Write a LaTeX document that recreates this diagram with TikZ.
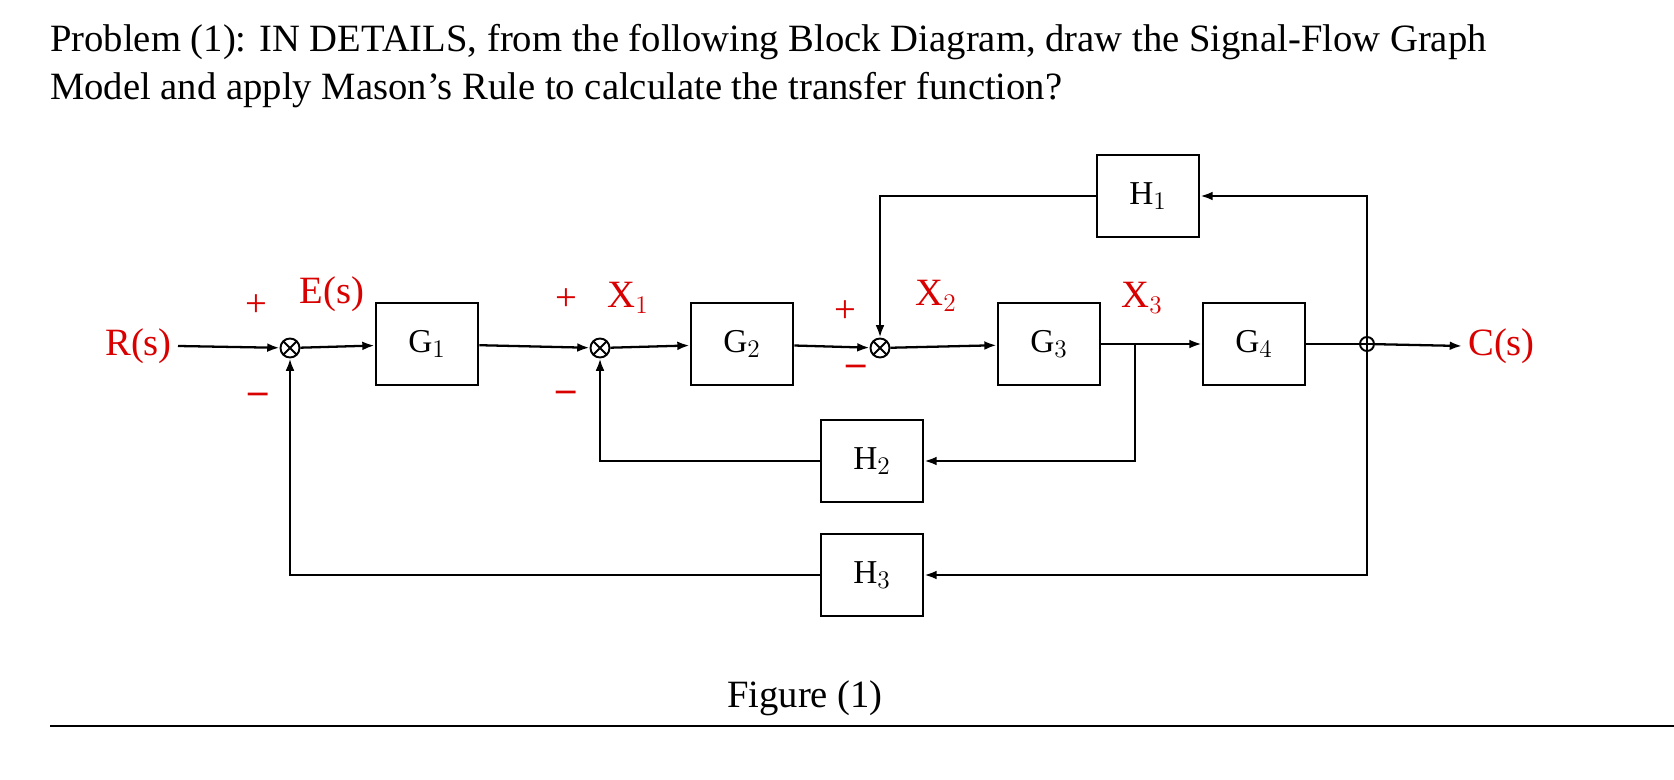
\documentclass[tikz,border=0pt]{standalone}
\usepackage{fontspec}
\setmainfont{Liberation Serif}
\usetikzlibrary{arrows.meta}
\begin{document}
\begin{tikzpicture}[x=0.02cm,y=-0.02cm,
  blk/.style={draw,line width=1.3pt,minimum width=2.05cm,minimum height=1.65cm,font=\fontsize{19}{19}\selectfont},
  sumj/.style={draw,circle,line width=1.1pt,minimum size=0.38cm,inner sep=0pt,
    path picture={\draw[line width=1.1pt] (path picture bounding box.north west)--(path picture bounding box.south east)
      (path picture bounding box.north east)--(path picture bounding box.south west);}},
  tk/.style={draw,circle,line width=1.1pt,minimum size=0.28cm,inner sep=0pt,
    path picture={\draw[line width=1.1pt] (path picture bounding box.north)--(path picture bounding box.south)
      (path picture bounding box.east)--(path picture bounding box.west);}},
  sig/.style={line width=1.3pt,-{Latex[length=7pt,width=5pt]}},
  ln/.style={line width=1.3pt},
  red txt/.style={text=red!85!black,font=\fontsize{22}{22}\selectfont},
  sg/.style={text=red!85!black,font=\fontsize{22}{22}\selectfont}]
\useasboundingbox (0,0) rectangle (1674,780);
% title
\node[anchor=west,font=\fontsize{22}{22}\selectfont] (t1) at (44,42) {Problem (1): IN DETAILS, from the following Block Diagram, draw the Signal-Flow Graph};
\node[anchor=west,font=\fontsize{22}{22}\selectfont] (t2) at (44,90) {Model and apply Mason’s Rule to calculate the transfer function?};
% blocks
\node[blk] (G1) at (427,344) {G$_1$};
\node[blk] (G2) at (742,344) {G$_2$};
\node[blk] (G3) at (1049,344) {G$_3$};
\node[blk] (G4) at (1254,344) {G$_4$};
\node[blk] (H1) at (1148,196) {H$_1$};
\node[blk] (H2) at (872,461) {H$_2$};
\node[blk] (H3) at (872,575) {H$_3$};
% junctions
\node[sumj] (S1) at (290,348) {};
\node[sumj] (S2) at (600,348) {};
\node[sumj] (S3) at (880,348) {};
\node[tk] (P) at (1367,344) {};
\coordinate (B3) at (1135,344);
% labels
\node[red txt,anchor=east] (R) at (178,346) {R(s)};
\node[red txt,anchor=west] (C) at (1462,346) {C(s)};
\node[red txt] (E) at (332,294) {E(s)};
\node[red txt] (X1) at (628,298) {X$_1$};
\node[red txt] (X2) at (936,296) {X$_2$};
\node[red txt] (X3) at (1142,298) {X$_3$};
\node[sg] (p1) at (256,306) {+};
\node[sg] (m1) at (258,398) {\textbf{--}};
\node[sg] (p2) at (566,300) {+};
\node[sg] (m2) at (566,396) {\textbf{--}};
\node[sg] (p3) at (845,312) {+};
\node[sg] (m3) at (856,370) {\textbf{--}};
\node[font=\fontsize{22}{22}\selectfont] (F) at (805,698) {Figure (1)};
\coordinate (L1) at (50,726);
\coordinate (L2) at (1674,726);
\draw[line width=1pt] (L1)--(L2);
% forward path
\draw[sig] (R.east) -- (S1);
\draw[sig] (S1) -- (G1);
\draw[sig] (G1) -- (S2);
\draw[sig] (S2) -- (G2);
\draw[sig] (G2) -- (S3);
\draw[sig] (S3) -- (G3);
\draw[sig] (G3) -- (G4);
\draw[ln] (G4) -- (P);
\draw[sig] (P) -- (C.west);
% feedback
\draw[sig] (P) |- (H1);
\draw[sig] (H1) -| (S3);
\draw[sig] (B3) |- (H2);
\draw[sig] (H2) -| (S2);
\draw[sig] (P) |- (H3);
\draw[sig] (H3) -| (S1);
\end{tikzpicture}
\end{document}
